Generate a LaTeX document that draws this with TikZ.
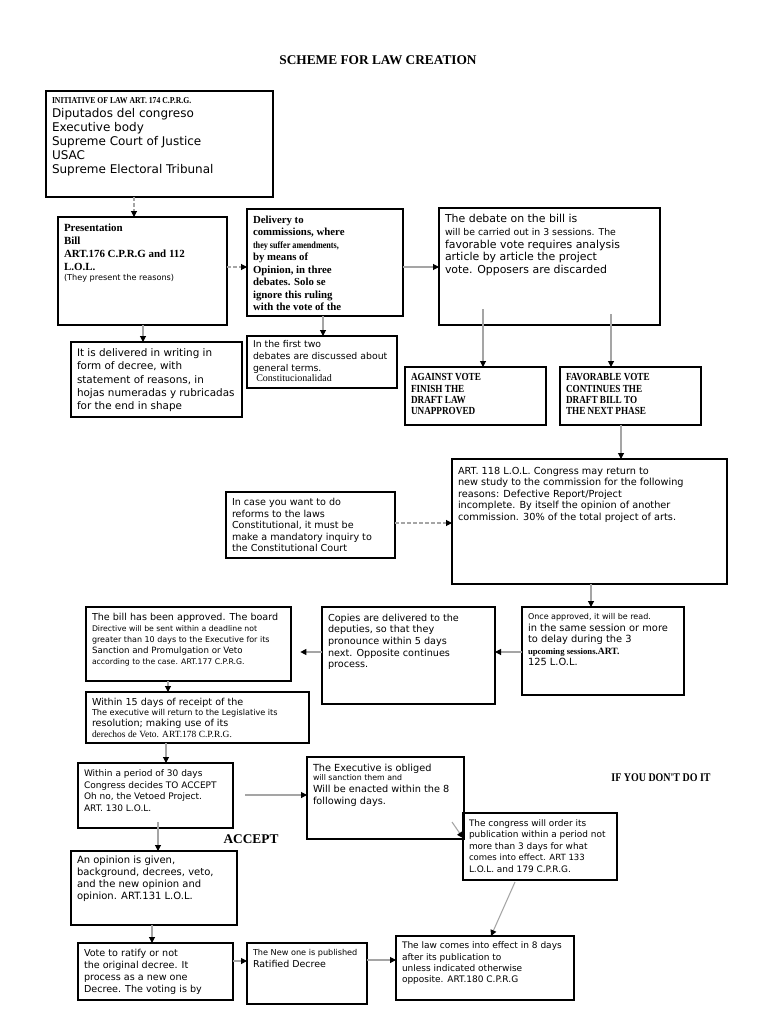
\documentclass[tikz,border=0pt]{standalone}
\usepackage{fontspec}
\setmainfont{DejaVu Sans}
\newfontfamily\timesf{Liberation Serif}
\newfontfamily\condf[FakeStretch=0.85]{Liberation Serif}
\usetikzlibrary{arrows.meta, calc}
\definecolor{linegray}{RGB}{165,165,165}
\newdimen\pxu \pxu=0.75pt
\newcommand{\fs}[1]{\fontsize{#1}{\baselineskip}\selectfont}
\newcommand{\bx}[4][2pt]{\parbox[t][\dimexpr#3\pxu-6pt\relax][t]{\dimexpr#2\pxu-9pt\relax}{\vspace*{#1}\raggedright #4}}

\begin{document}
\begin{tikzpicture}[
    x=0.75pt, y=-0.75pt,
    box/.style={draw, line width=0.8pt, anchor=north west, inner xsep=4.5pt, inner ysep=3pt, outer sep=0pt},
    link/.style={draw=linegray, line width=0.8pt, -{Triangle[length=4.5pt, width=4.5pt, color=black]}},
    dlink/.style={link, dash pattern=on 3pt off 1.5pt},
    heading/.style={font=\timesf\bfseries\fontsize{10}{12}\selectfont, inner sep=0pt}
]
    \useasboundingbox (0,0) rectangle (768,1024);
    \fill[white] (0,0) rectangle (768,1024);

    % Title
    \node[heading] (title) at (378,60) {SCHEME FOR LAW CREATION};

    % First row
    \node[box] (init) at (46,91) {\bx{227}{106}{\condf\bfseries\fontsize{6.8}{10.5}\selectfont INITIATIVE OF LAW ART. 174 C.P.R.G.\\
        \normalfont\fs{9}Diputados del congreso\\ Executive body\\ Supreme Court of Justice\\ USAC\\ Supreme Electoral Tribunal}};
    \node[box] (pres) at (58,217) {\bx{169}{108}{\timesf\bfseries\fontsize{8.2}{9.75}\selectfont Presentation\\ Bill\\ ART.176 C.P.R.G and 112\\ L.O.L.\\[-2pt]
        \normalfont\fs{6.1}(They present the reasons)}};
    \node[box] (deliv) at (247,209) {\bx{156}{107}{\timesf\bfseries\fontsize{8.1}{9.4}\selectfont Delivery to\\ commissions, where\\
        {\condf\bfseries\fs{7.2}they suffer amendments,}\\ by means of\\ Opinion, in three\\ debates. Solo se\\ ignore this ruling\\ with the vote of the}};
    \node[box] (debate) at (439,208) {\bx{221}{117}{\fontsize{8.2}{9.4}\selectfont The debate on the bill is\\
        {\fs{7}will be carried out in 3 sessions. The}\\ favorable vote requires analysis\\ article by article the project\\ vote. Opposers are discarded}};

    % Second row
    \node[box] (delivered) at (71,342) {\bx{171}{75}{\fontsize{7.8}{10}\selectfont It is delivered in writing in\\ form of decree, with\\
        statement of reasons, in\\ hojas numeradas y rubricadas\\ for the end in shape}};
    \node[box] (first) at (247,336) {\bx[0pt]{150}{52}{\fontsize{7}{9.2}\selectfont In the first two\\ debates are discussed about\\ general terms.}};
    \begin{scope}
        \clip (250,373.5) rectangle (395,381);
        \node[anchor=north west, inner sep=0pt, font=\timesf\fontsize{7.5}{9}\selectfont] (constit) at (256,374) {Constitucionalidad};
    \end{scope}
    \node[box] (against) at (405,367) {\bx{141}{58}{\condf\bfseries\fontsize{8.1}{8.5}\selectfont AGAINST VOTE\\ FINISH THE\\ DRAFT LAW\\ UNAPPROVED}};
    \node[box] (favor) at (560,367) {\bx{141}{58}{\condf\bfseries\fontsize{8.1}{8.5}\selectfont FAVORABLE VOTE\\ CONTINUES THE\\ DRAFT BILL TO\\ THE NEXT PHASE}};

    % Middle
    \node[box] (incase) at (226,492) {\bx{169}{66}{\fontsize{7.2}{8.6}\selectfont In case you want to do\\ reforms to the laws\\
        Constitutional, it must be\\ make a mandatory inquiry to\\ the Constitutional Court}};
    \node[box] (art118) at (452,459) {\bx[3pt]{275}{125}{\fontsize{7.3}{8.6}\selectfont ART. 118 L.O.L. Congress may return to\\
        new study to the commission for the following\\ reasons: Defective Report/Project\\
        incomplete. By itself the opinion of another\\ commission. 30\% of the total project of arts.}};

    % Approval row
    \node[box] (bill) at (86,607) {\bx{205}{74}{\fontsize{7.2}{8.2}\selectfont The bill has been approved. The board\\
        {\fs{5.8}Directive will be sent within a deadline not}\\ {\fs{6}greater than 10 days to the Executive for its}\\
        {\fs{6.5}Sanction and Promulgation or Veto}\\ {\fs{5.8}according to the case. ART.177 C.P.R.G.}}};
    \node[box] (copies) at (322,607) {\bx{173}{97}{\fontsize{7.25}{8.8}\selectfont Copies are delivered to the\\ deputies, so that they\\
        pronounce within 5 days\\ next. Opposite continues\\ process.}};
    \node[box] (once) at (522,607) {\bx{162}{88}{\fontsize{7.4}{8.6}\selectfont {\fs{6}Once approved, it will be read.}\\
        in the same session or more\\ to delay during the 3\\ {\timesf\bfseries\fs{6.5}upcoming sessions.\fs{7.2}ART.}\\ 125 L.O.L.}};
    \node[box] (within15) at (86,692) {\bx[1.3pt]{223}{51}{\fontsize{7.2}{8.2}\selectfont Within 15 days of receipt of the\\
        {\fs{6.1}The executive will return to the Legislative its}\\ resolution; making use of its\\
        {\timesf\fs{7.1}derechos de Veto. ART.178 C.P.R.G.}}};

    % Veto part
    \node[box] (within30) at (78,763) {\bx{155}{65}{\fontsize{6.75}{8.8}\selectfont Within a period of 30 days\\ Congress decides TO ACCEPT\\
        Oh no, the Vetoed Project.\\ ART. 130 L.O.L.}};
    \node[box] (exec) at (307,757) {\bx{157}{82}{\fontsize{7.3}{8.8}\selectfont The Executive is obliged\\[-1.5pt]
        {\fs{5.9}will sanction them and}\\ Will be enacted within the 8\\ following days.}};
    \node[box] (congress) at (463,813) {\bx{154}{67}{\fontsize{6.7}{8.6}\selectfont The congress will order its\\
        publication within a period not\\ more than 3 days for what\\ {\fs{6.4}comes into effect. ART 133}\\ L.O.L. and 179 C.P.R.G.}};
    \node[heading] (accept) at (251,839) {ACCEPT};
    \node[font=\condf\bfseries\fontsize{8.8}{10}\selectfont, inner sep=0pt] (nodoit) at (661,778) {IF YOU DON'T DO IT};
    \node[box] (opinion) at (71,851) {\bx[0.5pt]{166}{74}{\fontsize{7.5}{9}\selectfont An opinion is given,\\
        background, decrees, veto,\\ and the new opinion and\\ opinion. ART.131 L.O.L.}};

    % Last row
    \node[box] (vote) at (78,943) {\bx{155}{57}{\fontsize{7.2}{8.8}\selectfont Vote to ratify or not\\ the original decree. It\\
        process as a new one\\ Decree. The voting is by}};
    \node[box] (newone) at (247,943) {\bx{120}{61}{\fontsize{7.1}{9}\selectfont {\fs{6.1}The New one is published}\\ Ratified Decree}};
    \node[box] (law) at (396,936) {\bx[1.3pt]{178}{64}{\fontsize{6.75}{8.6}\selectfont The law comes into effect in 8 days\\
        after its publication to\\ unless indicated otherwise\\ opposite. ART.180 C.P.R.G}};

    % Connectors
    \draw[dlink] (init.south -| 134,0) -- (pres.north -| 134,0);
    \draw[dlink] (pres.east |- 0,267) -- (deliv.west |- 0,267);
    \draw[link] (deliv.east |- 0,267) -- (debate.west |- 0,267);
    \draw[link] (pres.south -| 143,0) -- (delivered.north -| 143,0);
    \draw[link] (deliv.south -| 323,0) -- (first.north -| 323,0);
    \draw[link] ($(debate.south -| 483,0)+(0,-16)$) -- (against.north -| 483,0);
    \draw[link] ($(debate.south -| 611,0)+(0,-11)$) -- (favor.north -| 611,0);
    \draw[link] (favor.south -| 621,0) -- (art118.north -| 621,0);
    \draw[dlink] (incase.east |- 0,523) -- (art118.west |- 0,523);
    \draw[link] (art118.south -| 591,0) -- (once.north -| 591,0);
    \draw[link] (once.west |- 0,652) -- (copies.east |- 0,652);
    \draw[link, shorten >=7pt] (copies.west |- 0,652) -- (bill.east |- 0,652);
    \draw[link] (bill.south -| 168,0) -- (within15.north -| 168,0);
    \draw[link] (within15.south -| 166,0) -- (within30.north -| 166,0);
    \draw[link] ($(within30.east |- 0,795)+(12,0)$) -- (exec.west |- 0,795);
    \draw[link] ($(within30.south -| 158,0)+(0,-6)$) -- (opinion.north -| 158,0);
    \draw[link] ($(congress.west |- 0,838)+(-11,-16)$) -- (congress.west |- 0,838);
    \draw[link] ($(congress.south -| 515,0)+(0,2)$) -- (law.north -| 491,0);
    \draw[link] (opinion.south -| 152,0) -- (vote.north -| 152,0);
    \draw[link] (vote.east |- 0,961) -- (newone.west |- 0,961);
    \draw[link] (newone.east |- 0,960) -- (law.west |- 0,960);
\end{tikzpicture}
\end{document}
